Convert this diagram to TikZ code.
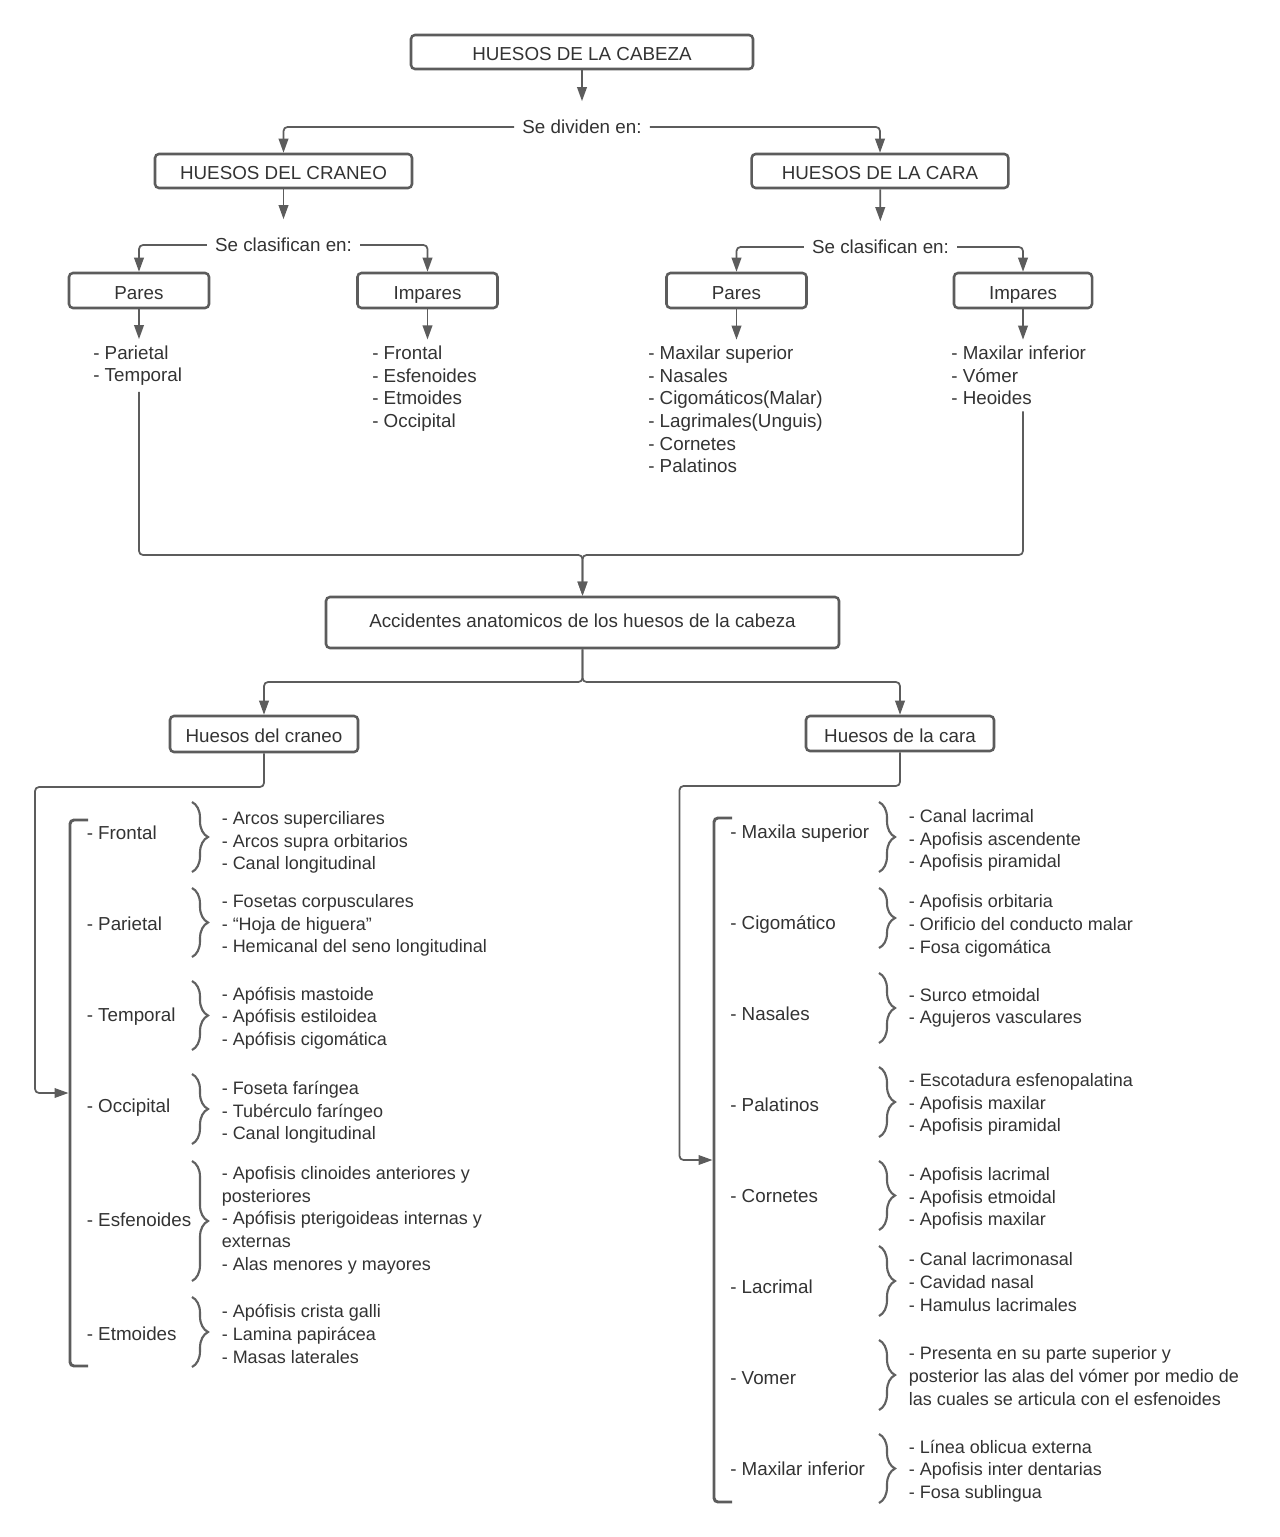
\documentclass[tikz,border=0pt]{standalone}
\usepackage{fontspec}
\setmainfont{Liberation Sans}
\usepackage{xcolor}
\usepackage{tikz}
\usetikzlibrary{arrows.meta,decorations.pathreplacing}
\definecolor{lineGray}{HTML}{5C5C5C}
\definecolor{braceGray}{HTML}{616161}
\definecolor{textDark}{HTML}{333333}

\begin{document}
\begin{tikzpicture}[x=0.75pt,y=0.75pt,yscale=-1,xscale=1,
  font=\fontsize{14.1}{17}\selectfont, text=textDark,
  titleBox/.style={draw=lineGray, line width=1.9pt, rounded corners=3pt, fill=white, inner sep=0pt, text height=13.7pt, text depth=0.6pt},
  sortText/.style={inner xsep=6pt, inner ysep=14pt},
  boneList/.style={anchor=west, align=left, inner xsep=0pt, inner ysep=4.5pt},
  detailList/.style={boneList, font=\fontsize{13.5}{17}\selectfont},
  bonePart/.style={anchor=west, inner sep=0pt, text height=11.5pt, text depth=1.4pt},
  linkLine/.style={draw=lineGray, line width=1.3pt, rounded corners=3pt},
  arrowTip/.style={-{Triangle[length=10.5pt,width=7.2pt]}},
  sideBracket/.style={draw=lineGray, line width=2.2pt, rounded corners=3pt},
  curlyBrace/.style={draw=braceGray, line width=1.6pt, decorate, decoration={brace, amplitude=12pt}}
]
\useasboundingbox[fill=white] (0,0) rectangle (1280,1537);

% Title Boxes
\draw (582,52) node (cabeza) [titleBox, minimum width=256.5pt, minimum height=25.5pt] {HUESOS DE LA CABEZA};
\draw (283.5,171) node (craneo) [titleBox, minimum width=192.75pt, minimum height=25.5pt] {HUESOS DEL CRANEO};
\draw (880,171) node (cara) [titleBox, minimum width=192.5pt, minimum height=25.5pt] {HUESOS DE LA CARA};
\draw (139,290.5) node (paresCr) [titleBox, minimum width=105pt, minimum height=26.25pt] {Pares};
\draw (427.5,290.5) node (imparesCr) [titleBox, minimum width=105pt, minimum height=26.25pt] {Impares};
\draw (736.5,290.5) node (paresCa) [titleBox, minimum width=105pt, minimum height=26.25pt] {Pares};
\draw (1023,290.5) node (imparesCa) [titleBox, minimum width=103.5pt, minimum height=26.25pt] {Impares};
\draw (582.5,622.5) node (accid) [titleBox, minimum width=384.75pt, minimum height=38.25pt, text height=10pt, text depth=2.1pt] {Accidentes anatomicos de los huesos de la cabeza};
\draw (264,734) node (hcran) [titleBox, minimum width=141pt, minimum height=27pt] {Huesos del craneo};
\draw (900,733.5) node (hcara) [titleBox, minimum width=141pt, minimum height=26.25pt] {Huesos de la cara};

% Text Node
\draw (582,127) node (divide) [sortText] {Se dividen en:};
\draw (283.5,245) node (clasCr) [sortText] {Se clasifican en:};
\draw (880.5,247) node (clasCa) [sortText] {Se clasifican en:};

% Text Node
\draw (93,365.5) node (listPCr) [boneList] {- Parietal\\- Temporal};
\draw (372,388.5) node (listICr) [boneList] {- Frontal\\- Esfenoides\\- Etmoides\\- Occipital};
\draw (648,409.5) node (listPCa) [boneList] {- Maxilar superior\\- Nasales\\- Cigomáticos(Malar)\\- Lagrimales(Unguis)\\- Cornetes\\- Palatinos};
\draw (951,375.5) node (listICa) [boneList] {- Maxilar inferior\\- Vómer\\- Heoides};

\coordinate (join) at (582.5,555);
\coordinate (split) at (582.5,682);
\coordinate (lbend) at (35,787);
\coordinate (lentry) at (68.5,1093);
\coordinate (rbend) at (679.5,786);
\coordinate (rentry) at (712.5,1160);

% Straight Lines
\draw [linkLine, arrowTip] (cabeza) -- (divide);
\draw [linkLine, arrowTip] (divide.west) -| (craneo.north);
\draw [linkLine, arrowTip] (divide.east) -| (cara.north);
\draw [linkLine, arrowTip] (craneo) -- (clasCr);
\draw [linkLine, arrowTip] (cara) -- (clasCa);
\draw [linkLine, arrowTip] (clasCr.west) -| (paresCr.north);
\draw [linkLine, arrowTip] (clasCr.east) -| (imparesCr.north);
\draw [linkLine, arrowTip] (clasCa.west) -| (paresCa.north);
\draw [linkLine, arrowTip] (clasCa.east) -| (imparesCa.north);
\draw [linkLine, arrowTip] (paresCr.south) -- (paresCr.south |- listPCr.north);
\draw [linkLine, arrowTip] (imparesCr.south) -- (imparesCr.south |- listICr.north);
\draw [linkLine, arrowTip] (paresCa.south) -- (paresCa.south |- listPCa.north);
\draw [linkLine, arrowTip] (imparesCa.south) -- (imparesCa.south |- listICa.north);
\draw [linkLine, arrowTip] (paresCr.south |- listPCr.south) |- (join) -- (accid.north);
\draw [linkLine, arrowTip] (imparesCa.south |- listICa.south) |- (join) -- (accid.north);
\draw [linkLine, arrowTip] (accid.south) -- (split) -| (hcran.north);
\draw [linkLine, arrowTip] (accid.south) -- (split) -| (hcara.north);
\draw [linkLine, arrowTip] (hcran.south) |- (lbend) |- (lentry);
\draw [linkLine, arrowTip] (hcara.south) |- (rbend) |- (rentry);

% Brackets
\draw [sideBracket] (88,820) -- (70,820) -- (70,1366) -- (88,1366);
\draw [sideBracket] (732,818) -- (714,818) -- (714,1502) -- (732,1502);

% Text Node
\draw (86.5,833) node (frontal) [bonePart] {- Frontal};
\draw (86.5,924) node (parietal) [bonePart] {- Parietal};
\draw (86.5,1015) node (temporal) [bonePart] {- Temporal};
\draw (86.5,1106) node (occipital) [bonePart] {- Occipital};
\draw (86.5,1220) node (esfenoides) [bonePart] {- Esfenoides};
\draw (86.5,1334) node (etmoides) [bonePart] {- Etmoides};

% Curly Braces
\draw [curlyBrace] (192,802) -- (192,872);
\draw [curlyBrace] (192,888) -- (192,957);
\draw [curlyBrace] (192,981) -- (192,1050);
\draw [curlyBrace] (192,1074) -- (192,1144);
\draw [curlyBrace] (192,1161) -- (192,1281);
\draw [curlyBrace] (192,1297) -- (192,1367);

% Text Node
\draw (221.5,842.5) node (detFrontal) [detailList] {- Arcos superciliares\\- Arcos supra orbitarios\\- Canal longitudinal};
\draw (221.5,925.5) node (detParietal) [detailList] {- Fosetas corpusculares\\- “Hoja de higuera”\\- Hemicanal del seno longitudinal};
\draw (221.5,1018) node (detTemporal) [detailList] {- Apófisis mastoide\\- Apófisis estiloidea\\- Apófisis cigomática};
\draw (221.5,1112.5) node (detOccipital) [detailList] {- Foseta faríngea\\- Tubérculo faríngeo\\- Canal longitudinal};
\draw (221.5,1220) node (detEsfenoides) [detailList] {- Apofisis clinoides anteriores y\\posteriores\\- Apófisis pterigoideas internas y\\externas\\- Alas menores y mayores};
\draw (221.5,1334) node (detEtmoides) [detailList] {- Apófisis crista galli\\- Lamina papirácea\\- Masas laterales};

% Text Node
\draw (730,832) node (maxSup) [bonePart] {- Maxila superior};
\draw (730,923) node (cigomatico) [bonePart] {- Cigomático};
\draw (730,1014) node (nasales) [bonePart] {- Nasales};
\draw (730,1105) node (palatinos) [bonePart] {- Palatinos};
\draw (730,1196) node (cornetes) [bonePart] {- Cornetes};
\draw (730,1287) node (lacrimal) [bonePart] {- Lacrimal};
\draw (730,1378) node (vomer) [bonePart] {- Vomer};
\draw (730,1469) node (maxInf) [bonePart] {- Maxilar inferior};

% Curly Braces
\draw [curlyBrace] (879,802) -- (879,872);
\draw [curlyBrace] (879,888) -- (879,948);
\draw [curlyBrace] (879,973) -- (879,1043);
\draw [curlyBrace] (879,1067) -- (879,1137);
\draw [curlyBrace] (879,1161) -- (879,1230);
\draw [curlyBrace] (879,1246) -- (879,1316);
\draw [curlyBrace] (879,1340) -- (879,1410);
\draw [curlyBrace] (879,1434) -- (879,1503);

% Text Node
\draw (908.5,840.5) node (detMaxSup) [detailList] {- Canal lacrimal\\- Apofisis ascendente\\- Apofisis piramidal};
\draw (908.5,926) node (detCigomatico) [detailList] {- Apofisis orbitaria\\- Orificio del conducto malar\\- Fosa cigomática};
\draw (908.5,1008) node (detNasales) [detailList] {- Surco etmoidal\\- Agujeros vasculares};
\draw (908.5,1104.5) node (detPalatinos) [detailList] {- Escotadura esfenopalatina\\- Apofisis maxilar\\- Apofisis piramidal};
\draw (908.5,1198.5) node (detCornetes) [detailList] {- Apofisis lacrimal\\- Apofisis etmoidal\\- Apofisis maxilar};
\draw (908.5,1282) node (detLacrimal) [detailList] {- Canal lacrimonasal\\- Cavidad nasal\\- Hamulus lacrimales};
\draw (908.5,1376) node (detVomer) [detailList] {- Presenta en su parte superior y\\posterior las alas del vómer por medio de\\las cuales se articula con el esfenoides};
\draw (908.5,1471) node (detMaxInf) [detailList] {- Línea oblicua externa\\- Apofisis inter dentarias\\- Fosa sublingua};
\end{tikzpicture}
\end{document}
